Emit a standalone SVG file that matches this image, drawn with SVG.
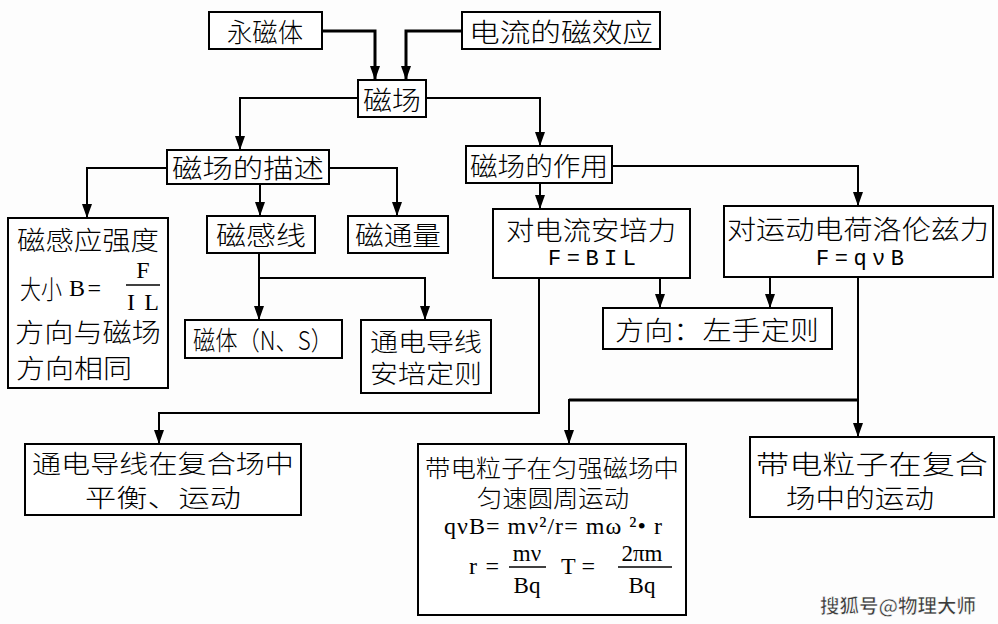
<svg xmlns="http://www.w3.org/2000/svg" width="998" height="624" viewBox="0 0 998 624">
<style>
.b{fill:#fff;stroke:#000;stroke-width:2}
.t{font-family:"Noto Sans CJK SC","Noto Sans CJK JP",sans-serif;font-weight:300;font-size:26px;fill:#000;text-anchor:middle;dominant-baseline:central}
.s{font-family:"Liberation Serif",serif;font-size:24px;fill:#000;text-anchor:middle;dominant-baseline:central}
.mo{font-family:"Liberation Mono",monospace;font-size:22px;fill:#000;text-anchor:middle;dominant-baseline:central}
.c{fill:none;stroke:#000;stroke-width:2;marker-end:url(#a)}
.k{stroke-width:3}
.f{stroke:#000;stroke-width:1.5}
</style>
<defs>
<marker id="a" viewBox="0 0 14 10" refX="14" refY="5" markerWidth="14" markerHeight="10" markerUnits="userSpaceOnUse" orient="auto">
<path d="M0,0 L14,5 L0,10 z" fill="#000"/>
</marker>
</defs>
<rect width="998" height="624" fill="#fdfdfd"/>
<g id="connectors">
<path class="c k" d="M322,31 H375 V80"/>
<path class="c k" d="M462,31 H406 V80"/>
<path class="c" d="M358,98 H240 V150"/>
<path class="c" d="M426,98 H540 V146"/>
<path class="c" d="M167,168 H87 V218"/>
<path class="c" d="M260,184 V216"/>
<path class="c" d="M329,168 H397 V216"/>
<path class="c" d="M540,183 V209"/>
<path class="c" d="M612,166 H858 V206"/>
<path class="c" d="M259,253 V320"/>
<path class="c" d="M259,278 H425 V320"/>
<path class="c" d="M660,278 V308"/>
<path class="c" d="M770,277 V308"/>
<path class="c" d="M539,278 V413 H159 V444"/>
<path class="c" d="M858,277 V400 H569 V444"/>
<path d="M569,400 H858" fill="none" stroke="#000" stroke-width="3"/>
<path class="c" d="M858,400 V437"/>
</g>
<g id="n1"><rect class="b" x="209" y="12" width="113" height="37"/><text class="t" x="265" y="30" textLength="76" lengthAdjust="spacingAndGlyphs">永磁体</text></g>
<g id="n2"><rect class="b" x="462" y="12" width="198" height="37"/><text class="t" x="561" y="30" textLength="184" lengthAdjust="spacingAndGlyphs">电流的磁效应</text></g>
<g id="n3"><rect class="b" x="358" y="80" width="68" height="37"/><text class="t" x="392" y="98" textLength="58" lengthAdjust="spacingAndGlyphs">磁场</text></g>
<g id="n4"><rect class="b" x="167" y="150" width="162" height="34"/><text class="t" x="248" y="166" textLength="152" lengthAdjust="spacingAndGlyphs">磁场的描述</text></g>
<g id="n5"><rect class="b" x="466" y="146" width="146" height="37"/><text class="t" x="539" y="164" textLength="138" lengthAdjust="spacingAndGlyphs">磁场的作用</text></g>
<g id="n6"><rect class="b" x="8" y="218" width="160" height="170"/>
<text class="t" x="88" y="238" textLength="142" lengthAdjust="spacingAndGlyphs">磁感应强度</text>
<text class="t" x="41" y="287" textLength="42" lengthAdjust="spacingAndGlyphs">大小</text>
<text class="s" x="85" y="288" textLength="32" lengthAdjust="spacing">B=</text>
<text class="s" x="143" y="270">F</text>
<line class="f" x1="126" y1="285" x2="160" y2="285"/>
<text class="s" x="143" y="302" textLength="32" lengthAdjust="spacing">I L</text>
<text class="t" x="88" y="330" textLength="146" lengthAdjust="spacingAndGlyphs">方向与磁场</text>
<text class="t" x="16" y="366" style="text-anchor:start" textLength="116" lengthAdjust="spacingAndGlyphs">方向相同</text></g>
<g id="n7"><rect class="b" x="207" y="216" width="108" height="37"/><text class="t" x="261" y="233" textLength="90" lengthAdjust="spacingAndGlyphs">磁感线</text></g>
<g id="n8"><rect class="b" x="348" y="216" width="100" height="37"/><text class="t" x="398" y="233" textLength="86" lengthAdjust="spacingAndGlyphs">磁通量</text></g>
<g id="n9"><rect class="b" x="185" y="320" width="157" height="38"/><text class="t" x="263" y="338" textLength="140" lengthAdjust="spacingAndGlyphs">磁体（N、S）</text></g>
<g id="n10"><rect class="b" x="361" y="320" width="130" height="73"/><text class="t" x="426" y="340" style="font-size:25px" textLength="112" lengthAdjust="spacingAndGlyphs">通电导线</text><text class="t" x="426" y="372" style="font-size:25px" textLength="112" lengthAdjust="spacingAndGlyphs">安培定则</text></g>
<g id="n11"><rect class="b" x="493" y="209" width="197" height="69"/><text class="t" x="591" y="228" textLength="170" lengthAdjust="spacingAndGlyphs">对电流安培力</text><text class="mo" x="592" y="259" textLength="88" lengthAdjust="spacing">F=BIL</text></g>
<g id="n12"><rect class="b" x="724" y="206" width="269" height="71"/><text class="t" x="858" y="227" textLength="262" lengthAdjust="spacingAndGlyphs">对运动电荷洛伦兹力</text><text class="mo" x="860" y="259" textLength="88" lengthAdjust="spacing">F=qνB</text></g>
<g id="n13"><rect class="b" x="603" y="308" width="229" height="41"/><text class="t" x="717" y="328" textLength="204" lengthAdjust="spacingAndGlyphs">方向：左手定则</text></g>
<g id="n14"><rect class="b" x="25" y="444" width="276" height="71"/><text class="t" x="163" y="462" style="font-size:25px" textLength="262" lengthAdjust="spacingAndGlyphs">通电导线在复合场中</text><text class="t" x="163" y="496" style="font-size:25px" textLength="156" lengthAdjust="spacingAndGlyphs">平衡、运动</text></g>
<g id="n15"><rect class="b" x="418" y="444" width="268" height="171"/>
<text class="t" x="552" y="466" style="font-size:24px" textLength="254" lengthAdjust="spacingAndGlyphs">带电粒子在匀强磁场中</text>
<text class="t" x="553" y="496" style="font-size:24px" textLength="152" lengthAdjust="spacingAndGlyphs">匀速圆周运动</text>
<text class="s" x="553" y="526" textLength="218" lengthAdjust="spacing">qνB= mν²/r= mω ²• r</text>
<text class="s" x="484" y="566" textLength="30" lengthAdjust="spacing">r=</text>
<text class="s" x="527" y="553" style="font-size:23px">mν</text>
<line class="f" x1="509" y1="567" x2="546" y2="567"/>
<text class="s" x="527" y="585" style="font-size:23px">Bq</text>
<text class="s" x="578" y="566" textLength="34" lengthAdjust="spacing">T=</text>
<text class="s" x="642" y="553" style="font-size:23px">2πm</text>
<line class="f" x1="618" y1="567" x2="672" y2="567"/>
<text class="s" x="642" y="585" style="font-size:23px">Bq</text></g>
<g id="n16"><rect class="b" x="750" y="437" width="244" height="80"/><text class="t" x="872" y="462" textLength="232" lengthAdjust="spacingAndGlyphs">带电粒子在复合</text><text class="t" x="860" y="496" textLength="148" lengthAdjust="spacingAndGlyphs">场中的运动</text></g>
<text x="898" y="604" style="font-family:'Noto Sans CJK SC',sans-serif;font-weight:bold;font-size:19px;text-anchor:middle;dominant-baseline:central;fill:#3a3a3a;stroke:#fff;stroke-width:0.6" textLength="156" lengthAdjust="spacingAndGlyphs">搜狐号@物理大师</text>
</svg>
